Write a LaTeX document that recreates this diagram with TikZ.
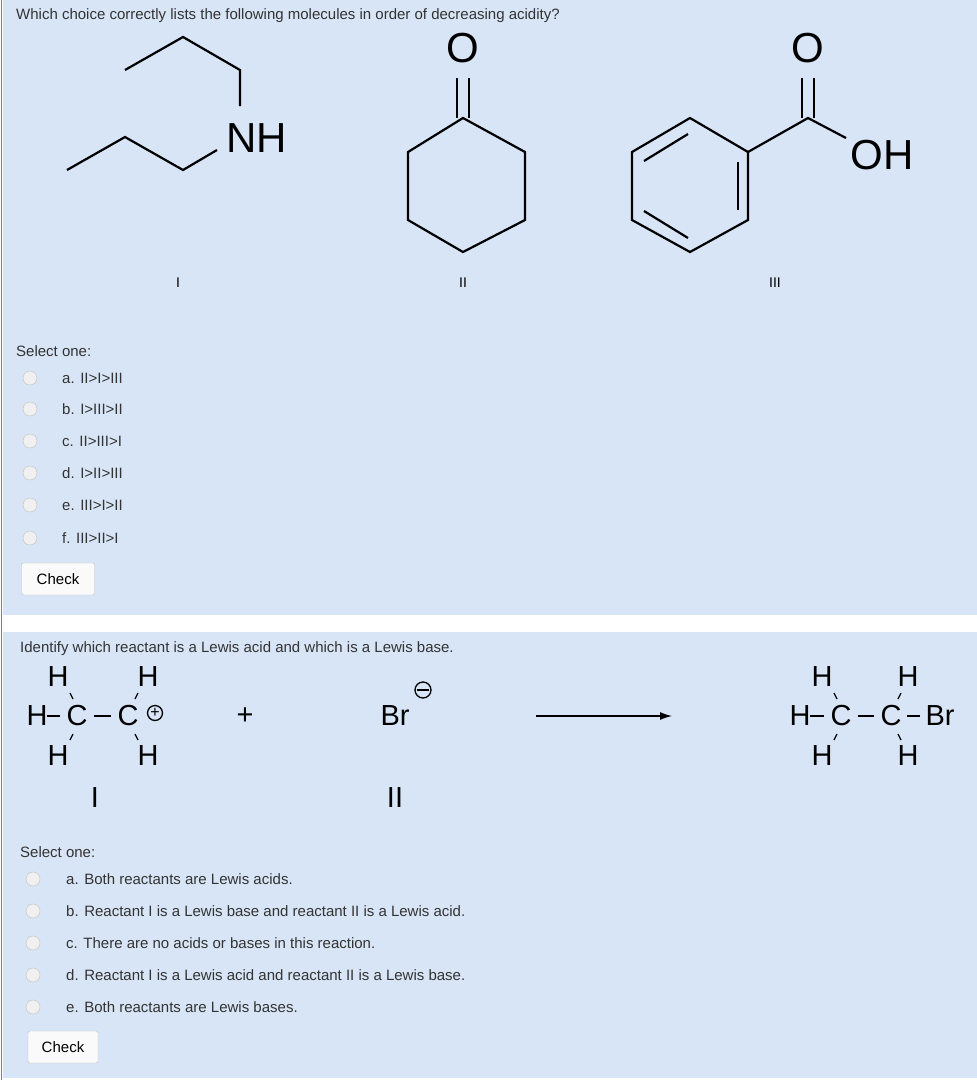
\documentclass[tikz,border=0pt]{standalone}
\usepackage{fontspec}
\setmainfont{Liberation Sans}
\usetikzlibrary{arrows.meta}
\begin{document}
\begin{tikzpicture}[x=1pt,y=-1pt,
  bond/.style={line width=2.2pt},
  thin/.style={line width=1.3pt},
  txt/.style={anchor=west,inner sep=0pt,font=\fontsize{15}{18}\selectfont,text=black!80},
  big/.style={inner sep=0pt,font=\fontsize{42}{44}\selectfont},
  lw/.style={inner sep=0pt,font=\fontsize{29}{31}\selectfont},
  radio/.style={circle,draw=black!25,fill=black!6,minimum size=14pt,inner sep=0pt},
  btn/.style={draw=black!25,fill=black!2,rounded corners=2pt,minimum width=73pt,minimum height=32pt,font=\fontsize{15}{18}\selectfont}]
\useasboundingbox (0,0) rectangle (977,1080);
\fill[white] (0,0) rectangle (977,1080);
\fill[cyan!60!blue!15] (3,0) rectangle (977,615);
\fill[cyan!60!blue!15] (3,632) rectangle (977,1078);
\draw[red!70,line width=1pt] (1,0) -- (1,1080);
% question 1
\node[txt] (q1) at (16,16) {Which choice correctly lists the following molecules in order of decreasing acidity?};
% molecule I
\node[big] (nh) at (257,138) {NH};
\draw[bond] (125,70) -- (183,37) -- (240,70) -- (240,106);
\draw[bond] (67,170) -- (125,137) -- (183,170) -- (217,150);
% molecule II
\node[big] (o2) at (463,48) {O};
\draw[bond] (457,78) -- (457,118); \draw[bond] (469,78) -- (469,118);
\draw[bond] (463,118) -- (525,152) -- (525,220) -- (463,252) -- (408,220) -- (408,152) -- cycle;
% molecule III
\node[big] (o3) at (808,48) {O};
\node[big] (oh) at (882,155) {OH};
\draw[bond] (802,78) -- (802,118); \draw[bond] (814,78) -- (814,118);
\draw[bond] (690,118) -- (748,152) -- (748,220) -- (690,252) -- (632,220) -- (632,152) -- cycle;
\draw[bond] (748,152) -- (808,118) -- (846,138);
\draw[bond] (644,161) -- (688,134);
\draw[bond] (738,162) -- (738,210);
\draw[bond] (644,211) -- (688,238);
\node[inner sep=0pt,font=\fontsize{14}{16}\selectfont] (l1) at (178,283) {I};
\node[inner sep=0pt,font=\fontsize{14}{16}\selectfont] (l2) at (463,283) {II};
\node[inner sep=0pt,font=\fontsize{14}{16}\selectfont] (l3) at (775,283) {III};
\node[txt] (s1) at (16,351) {Select one:};
\foreach \y/\t [count=\i] in {378/a. II>I>III,409/b. I>III>II,441/c. II>III>I,473/d. I>II>III,505/e. III>I>II,538/f. III>II>I}{
  \node[radio] (r\i) at (30,\y) {};
  \node[txt] (o\i) at (62,\y) {\t};
}
\node[btn] (c1) at (58,579) {Check};
% question 2
\node[txt] (q2) at (20,649) {Identify which reactant is a Lewis acid and which is a Lewis base.};
\node[lw] (h1) at (58,677) {H};
\node[lw] (h2) at (148,677) {H};
\node[lw] (h3) at (58,756) {H};
\node[lw] (h4) at (148,756) {H};
\node[lw] (h0) at (37,716) {H};
\node[lw] (ca) at (77,716) {C};
\node[lw] (cb) at (128,716) {C};
\draw[thin] (47,716) -- (60,716); \draw[thin] (94,716) -- (111,716);
\node[circle,draw,thin,minimum size=15pt,inner sep=0pt,font=\fontsize{16}{16}\selectfont] (plus1) at (155,713) {+};
\draw[thin] (70,693) -- (73,699); \draw[thin] (138,693) -- (135,699);
\draw[thin] (73,734) -- (70,740); \draw[thin] (135,734) -- (138,740);
\node[lw] (plus) at (245,716) {+};
\node[lw] (br) at (395,716) {Br};
\node[circle,draw,thin,minimum size=16pt,inner sep=0pt] (minus) at (423,690) {};
\draw[thin] (417,690) -- (429,690);
\draw[thin,-{Latex[length=12pt,width=8pt]}] (536,716) -- (672,716);
\node[lw] (p1) at (822,677) {H};
\node[lw] (p2) at (908,677) {H};
\node[lw] (p3) at (822,756) {H};
\node[lw] (p4) at (908,756) {H};
\node[lw] (p0) at (800,716) {H};
\node[lw] (pa) at (841,716) {C};
\node[lw] (pb) at (891,716) {C};
\node[lw] (pbr) at (940,716) {Br};
\draw[thin] (810,716) -- (824,716); \draw[thin] (858,716) -- (874,716); \draw[thin] (907,716) -- (920,716);
\draw[thin] (834,693) -- (837,699); \draw[thin] (901,693) -- (898,699);
\draw[thin] (837,734) -- (834,740); \draw[thin] (898,734) -- (901,740);
\node[lw] (m1) at (95,798) {I};
\node[lw] (m2) at (395,798) {II};
\node[txt] (s2) at (20,852) {Select one:};
\foreach \y/\t [count=\i] in {879/a. Both reactants are Lewis acids.,911/b. Reactant I is a Lewis base and reactant II is a Lewis acid.,943/c. There are no acids or bases in this reaction.,975/d. Reactant I is a Lewis acid and reactant II is a Lewis base.,1007/e. Both reactants are Lewis bases.}{
  \node[radio] (rr\i) at (33,\y) {};
  \node[txt] (oo\i) at (66,\y) {\t};
}
\node[btn,minimum width=70pt] (c2) at (63,1047) {Check};
\end{tikzpicture}
\end{document}
